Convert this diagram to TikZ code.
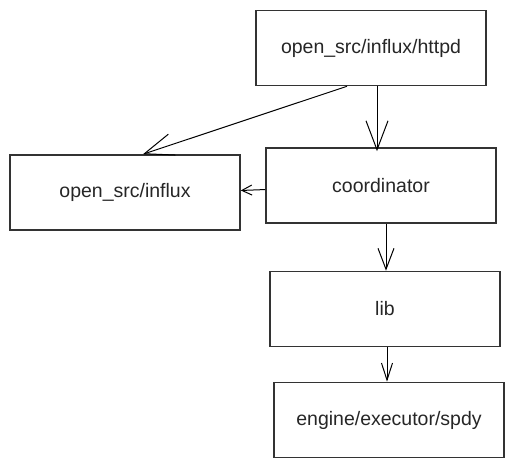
\documentclass[tikz,border=0pt]{standalone}
\usepackage{fontspec}
\setmainfont{Liberation Sans}
\usetikzlibrary{arrows.meta}
\definecolor{edge}{HTML}{333333}
\tikzset{
  box/.style={draw=edge, line width=1.6pt, minimum width=230pt, minimum height=75pt, inner sep=0pt, text=black!85, font=\fontsize{19.5}{22}\selectfont},
  conn/.style={draw=black, line width=1pt},
  bigtip/.style={-{Straight Barb[length=29pt,width=22pt]}},
  midtip/.style={-{Straight Barb[length=21pt,width=16pt]}},
  smalltip/.style={-{Straight Barb[length=17pt,width=11pt]}},
  tinytip/.style={-{Straight Barb[length=10pt,width=10pt]}},
}
\begin{document}
\begin{tikzpicture}[x=1pt,y=-1pt]
\useasboundingbox (0,0) rectangle (514,468);
\node[box] (h) at (371,48) {open\_src/influx/httpd};
\node[box] (in) at (125,192.5) {open\_src/influx};
\node[box] (co) at (381,185.5) {coordinator};
\node[box] (lib) at (385,309) {lib};
\node[box] (en) at (389,420) {engine/executor/spdy};
\draw[conn,bigtip] ([xshift=6pt]h.south) -- ([xshift=-4pt,yshift=-4pt]co.north);
\draw[conn,bigtip] ([xshift=-24pt]h.south) -- ([xshift=18pt]in.north);
\draw[conn,tinytip] (co.182.2) -- (in.1.25);
\draw[conn,midtip] ([xshift=5pt]co.south) -- ([xshift=1pt]lib.north);
\draw[conn,smalltip] ([xshift=2pt]lib.south) -- ([xshift=-2pt]en.north);
\end{tikzpicture}
\end{document}
